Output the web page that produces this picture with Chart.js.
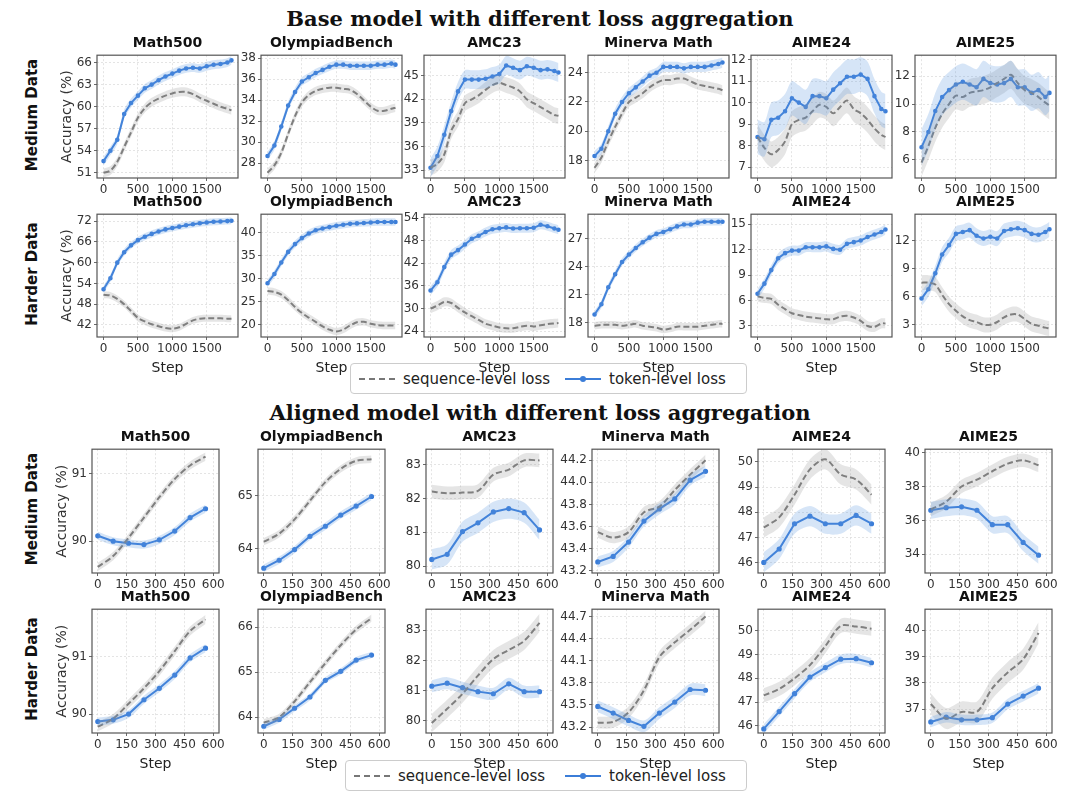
<!DOCTYPE html>
<html><head><meta charset="utf-8">
<script src="https://cdn.jsdelivr.net/npm/chart.js@4"></script>
<style>
body{margin:0;width:1080px;height:794px;background:#fff;position:relative;overflow:hidden;font-family:"DejaVu Sans",sans-serif;}
.sup{position:absolute;left:0;width:1080px;text-align:center;font-family:"DejaVu Serif","Liberation Serif",serif;font-weight:bold;font-size:21px;color:#111;}
.pt{position:absolute;text-align:center;font-weight:bold;font-size:14px;color:#111;white-space:nowrap;}
.rl{position:absolute;font-weight:bold;font-size:15px;color:#111;transform:rotate(-90deg);transform-origin:center;white-space:nowrap;width:120px;text-align:center;}
canvas{position:absolute;}
.leg{position:absolute;border:1px solid #ccc;border-radius:4px;background:#fff;font-size:15px;color:#222;}
.item{position:absolute;top:0;height:100%;display:flex;align-items:center;}
.ls{width:36px;height:0;margin-right:8px;position:relative;}
</style></head><body>
<div class="sup" style="top:6px">Base model with different loss aggregation</div>
<div class="sup" style="top:400px">Aligned model with different loss aggregation</div>
<div class="rl" style="left:-28px;top:106px">Medium Data</div>
<div class="rl" style="left:-28px;top:265px">Harder Data</div>
<div class="rl" style="left:-28px;top:500px">Medium Data</div>
<div class="rl" style="left:-28px;top:660px">Harder Data</div>
<div class="leg" style="left:350px;top:363px;width:395px;height:29px">
 <div class="item" style="left:8px"><div class="ls" style="border-top:2px dashed #777"></div>sequence-level loss</div>
 <div class="item" style="left:214px"><div class="ls" style="border-top:2px solid #3b7dd8"><span style="position:absolute;left:15px;top:-4px;width:6px;height:6px;border-radius:3px;background:#3b7dd8"></span></div>token-level loss</div>
</div>
<div class="leg" style="left:345px;top:760px;width:400px;height:29px">
 <div class="item" style="left:8px"><div class="ls" style="border-top:2px dashed #777"></div>sequence-level loss</div>
 <div class="item" style="left:219px"><div class="ls" style="border-top:2px solid #3b7dd8"><span style="position:absolute;left:15px;top:-4px;width:6px;height:6px;border-radius:3px;background:#3b7dd8"></span></div>token-level loss</div>
</div>
<script>
const benchmarks = ["Math500","OlympiadBench","AMC23","Minerva Math","AIME24","AIME25"];
const baseSteps = [0,100,200,300,400,500,600,700,800,900,1000,1100,1200,1300,1400,1500,1600,1700,1800,1860];
const alignedSteps = [0,80,160,240,320,400,480,560];
const baseXTicks = [0,500,1000,1500];
const alignedXTicks = [0,150,300,450,600];

// Base model, Medium data
const bMedMathTok = [52.6,54,55.5,59,60.5,61.5,62.5,63,63.6,64.1,64.5,64.9,65.2,65.3,65.2,65.5,65.7,65.8,66,66.3];
const bMedMathSeq = [51,51.3,52.5,54.5,56.5,58.5,59.8,60.6,61.1,61.5,61.8,62,62,61.7,61.2,60.8,60.4,60,59.7,59.5];
const bMedOlyTok = [28.7,29.7,31.5,33.5,34.8,35.8,36.2,36.6,36.9,37.2,37.4,37.4,37.3,37.3,37.3,37.3,37.4,37.4,37.5,37.4];
const bMedOlySeq = [27.1,27.8,29,30.8,32.5,33.8,34.5,34.9,35.1,35.2,35.2,35.1,35,34.6,34,33.4,33,33,33.2,33.3];
const bMedAmcTok = [33.3,34.8,37.5,40.5,43,44.5,44.5,44.5,44.6,44.9,45.2,46.3,46,45.7,46.2,46,45.7,45.8,45.6,45.4];
const bMedAmcSeq = [33.3,33.8,35,38,39.5,41.5,42,42.5,43.2,43.8,44.1,43.8,43.5,43,42,41.5,41,40.5,40,39.9];
const bMedMinTok = [18.3,18.8,20,21.2,22,22.6,23,23.4,23.8,24,24.4,24.4,24.4,24.3,24.4,24.4,24.4,24.5,24.6,24.7];
const bMedMinSeq = [17.5,18.2,19.3,20.3,21.2,22,22.3,22.6,23,23.3,23.5,23.5,23.6,23.6,23.4,23.2,23.1,23,22.9,22.8];
const bMedA24Tok = [8.4,8.3,9.2,9.3,9.6,10.2,10.0,9.8,10.3,10.3,10.2,10.6,10.9,11.2,11.2,11.3,11.1,10.3,9.7,9.6];
const bMedA24Seq = [8.4,7.9,7.6,7.8,8.2,9.0,9.2,9.3,9.6,9.9,9.8,9.5,9.8,10.1,9.7,9.5,9.2,8.8,8.5,8.4];
const bMedA25Tok = [6.9,8.0,9.5,10.5,11,11.4,11.6,11.4,11.2,11.8,11.5,11.4,11.5,11.8,11.2,11.2,10.8,11,10.5,10.8];
const bMedA25Seq = [5.8,7,8.3,9.3,10,10.6,10.5,10.8,10.9,11,11.2,11.5,11.8,12.1,11.5,11,10.8,10.5,10.1,9.9];
// Base model, Harder data
const bHarMathTok = [52.3,55.5,60,63,65,66.5,67.5,68.3,69,69.6,70,70.4,70.8,71.1,71.4,71.6,71.8,71.9,72,72.1];
const bHarMathSeq = [50.7,50.5,49.5,48,46,44,43,42.2,41.6,41.1,40.9,41.3,42.3,43.3,43.8,43.9,43.9,43.9,43.8,43.8];
const bHarOlyTok = [29,31,33.5,35.8,37.5,38.8,39.8,40.5,40.9,41.2,41.5,41.7,41.9,42,42.1,42.2,42.3,42.3,42.3,42.3];
const bHarOlySeq = [27.3,27.1,26.5,25.3,23.8,22.5,21.5,20.6,19.6,18.9,18.5,18.9,19.8,20.5,20.6,20.2,19.9,19.8,19.8,19.8];
const bHarAmcTok = [34.8,37,41,44.3,45.5,47,48.5,49.3,50.3,51,51.3,51.5,51.2,51.3,51.3,51.4,52.2,51.8,51.2,50.9];
const bHarAmcSeq = [30,30.8,31.8,31.5,30.2,29,28,27,26,25.5,25,24.8,24.8,25.2,25.5,25.3,25.6,25.9,26.1,26.2];
const bHarMinTok = [18.9,20,21.8,23.2,24.5,25.3,26,26.6,27.1,27.5,27.7,28,28.3,28.5,28.5,28.7,28.8,28.8,28.8,28.8];
const bHarMinSeq = [17.7,17.8,17.8,17.8,17.7,17.8,17.9,17.7,17.6,17.5,17.3,17.4,17.6,17.6,17.6,17.6,17.7,17.8,17.9,17.9];
const bHarA24Tok = [6.8,8,9.6,11,11.6,11.9,11.9,12.3,12.3,12.3,12.4,12.1,12,12.7,12.9,13.1,13.5,13.8,14.1,14.4];
const bHarA24Seq = [6.5,6.3,6.2,5.5,5,4.5,4.3,4.1,4,3.9,3.8,3.8,4.1,4.2,4,3.6,3,2.9,3.3,3.3];
const bHarA25Tok = [5.8,6.8,8.5,10.5,11.5,12.7,12.9,13.1,12.5,12.2,12.4,12.2,13,13.2,13.3,13.1,12.7,12.6,12.9,13.2];
const bHarA25Seq = [7.5,7.5,7.3,6.2,5.2,4.5,3.9,3.5,3.3,3,3,3.3,3.8,4.1,4.1,3.6,3.1,2.9,2.7,2.6];
// Aligned model, Medium data
const aMedMathTok = [90.08,90.0,89.97,89.95,90.02,90.15,90.35,90.48];
const aMedMathSeq = [89.62,89.78,90.05,90.35,90.65,90.92,91.12,91.25];
const aMedOlyTok = [63.63,63.78,63.98,64.23,64.42,64.63,64.8,64.98];
const aMedOlySeq = [64.13,64.28,64.55,64.9,65.25,65.5,65.65,65.68];
const aMedAmcTok = [80.2,80.35,81.02,81.28,81.6,81.7,81.58,81.07];
const aMedAmcSeq = [82.2,82.15,82.17,82.22,82.7,82.85,83.12,83.12];
const aMedMinTok = [43.28,43.33,43.46,43.65,43.76,43.85,44.02,44.1];
const aMedMinSeq = [43.55,43.5,43.55,43.73,43.78,43.93,44.07,44.2];
const aMedA24Tok = [46.02,46.55,47.55,47.85,47.55,47.55,47.88,47.55];
const aMedA24Seq = [47.4,47.8,48.7,49.7,50.1,49.5,49.3,48.7];
const aMedA25Tok = [36.6,36.75,36.8,36.6,35.75,35.75,34.7,33.95];
const aMedA25Seq = [36.65,37.1,38,38.4,38.9,39.35,39.55,39.25];
// Aligned model, Harder data
const aHarMathTok = [89.87,89.9,90.0,90.25,90.45,90.68,90.98,91.15];
const aHarMathSeq = [89.78,89.92,90.18,90.45,90.75,91.1,91.45,91.65];
const aHarOlyTok = [63.8,63.95,64.2,64.45,64.82,65.02,65.27,65.38];
const aHarOlySeq = [63.88,64.0,64.35,64.78,65.2,65.6,65.95,66.2];
const aHarAmcTok = [81.15,81.25,81.1,80.97,80.9,81.23,80.97,80.97];
const aHarAmcSeq = [79.93,80.4,80.9,81.5,82.05,82.35,82.65,83.25];
const aHarMinTok = [43.48,43.39,43.29,43.21,43.39,43.54,43.71,43.7];
const aHarMinSeq = [43.26,43.27,43.4,43.7,44.15,44.35,44.52,44.7];
const aHarA24Tok = [45.87,46.6,47.35,48.05,48.45,48.8,48.82,48.65];
const aHarA24Seq = [47.28,47.55,48.0,48.55,49.35,50.2,50.17,50.08];
const aHarA25Tok = [36.52,36.7,36.6,36.6,36.68,37.2,37.5,37.8];
const aHarA25Seq = [37.2,36.65,36.9,36.9,37.8,38.4,38.9,39.9];

const yTicks = [
 [[51,54,57,60,63,66],[28,30,32,34,36,38],[33,36,39,42,45],[18,20,22,24],[7,8,9,10,11,12],[6,8,10,12]],
 [[42,48,54,60,66,72],[20,25,30,35,40],[24,30,36,42,48,54],[18,21,24,27],[3,6,9,12,15],[3,6,9,12]],
 [[90,91],[64,65],[80,81,82,83],[43.2,43.4,43.6,43.8,44.0,44.2],[46,47,48,49,50],[34,36,38,40]],
 [[90,91],[64,65,66],[80,81,82,83],[43.2,43.5,43.8,44.1,44.4,44.7],[46,47,48,49,50],[37,38,39,40]]
];
const yRanges = [
 [[50.3,67],[26.6,38.3],[32,47.6],[16.8,25.2],[6.5,12.2],[4.7,13.5]],
 [[38.5,74],[17.3,44],[22.5,55],[16.5,29.6],[1.7,16.2],[1.7,14.8]],
 [[89.53,91.36],[63.54,65.87],[79.8,83.45],[43.18,44.3],[45.6,50.5],[32.9,40.2]],
 [[89.67,91.83],[63.65,66.4],[79.6,83.7],[43.12,44.8],[45.7,50.9],[36.1,40.8]]
];
const bands = [
 [[0.6,0.6],[0.4,0.4],[1.2,1.0],[0.35,0.35],[0.8,0.6],[1.3,1.0]],
 [[1.0,1.0],[0.8,0.8],[1.2,1.2],[0.4,0.4],[0.6,0.6],[0.8,0.8]],
 [[0.06,0.06],[0.07,0.07],[0.3,0.2],[0.05,0.05],[0.4,0.4],[0.5,0.4]],
 [[0.07,0.08],[0.07,0.08],[0.2,0.3],[0.08,0.08],[0.2,0.3],[0.2,0.4]]
];
const panelData = [
 [[bMedMathTok,bMedMathSeq],[bMedOlyTok,bMedOlySeq],[bMedAmcTok,bMedAmcSeq],[bMedMinTok,bMedMinSeq],[bMedA24Tok,bMedA24Seq],[bMedA25Tok,bMedA25Seq]],
 [[bHarMathTok,bHarMathSeq],[bHarOlyTok,bHarOlySeq],[bHarAmcTok,bHarAmcSeq],[bHarMinTok,bHarMinSeq],[bHarA24Tok,bHarA24Seq],[bHarA25Tok,bHarA25Seq]],
 [[aMedMathTok,aMedMathSeq],[aMedOlyTok,aMedOlySeq],[aMedAmcTok,aMedAmcSeq],[aMedMinTok,aMedMinSeq],[aMedA24Tok,aMedA24Seq],[aMedA25Tok,aMedA25Seq]],
 [[aHarMathTok,aHarMathSeq],[aHarOlyTok,aHarOlySeq],[aHarAmcTok,aHarAmcSeq],[aHarMinTok,aHarMinSeq],[aHarA24Tok,aHarA24Seq],[aHarA25Tok,aHarA25Seq]]
];

const rowTops = [54,213,448,608];
const rowH = [124,124,125,125];
const baseLefts = [97,261,424,588,751,915], baseW = 141;
const alLefts = [92,258,426,592,758,925], alW = 127;

const frame = {id:'frame',afterDraw(c){const a=c.chartArea,x=c.ctx;x.save();x.strokeStyle='#555';x.lineWidth=1.2;x.strokeRect(a.left,a.top,a.right-a.left,a.bottom-a.top);x.restore();}};
const TOK='#3b7dd8', SEQ='#777';
const font={family:"DejaVu Sans",size:12};

for(let r=0;r<4;r++){
 const base = r<2;
 for(let c=0;c<6;c++){
  const steps = base?baseSteps:alignedSteps;
  const [tok,seq] = panelData[r][c];
  const [bt,bs] = bands[r][c];
  const pl = base?baseLefts[c]:alLefts[c], pw = base?baseW:alW, pt=rowTops[r], ph=rowH[r];
  const yw = c==0?38:(r>=2&&c==3?38:32);
  const bottomRow = (r==1||r==3);
  const xh = bottomRow?40:22;
  const cv=document.createElement('canvas');
  const W=yw+pw+14, H=8+ph+xh;
  cv.style.left=(pl-yw)+'px'; cv.style.top=(pt-8)+'px';
  cv.style.width=W+'px'; cv.style.height=H+'px'; cv.width=W; cv.height=H;
  document.body.appendChild(cv);
  const t=document.createElement('div'); t.className='pt';
  t.style.left=pl+'px'; t.style.width=pw+'px'; t.style.top=(pt-20)+'px'; t.textContent=benchmarks[c];
  document.body.appendChild(t);
  const pts=a=>steps.map((s,i)=>({x:s,y:a[i]}));
  const off=(a,d)=>steps.map((s,i)=>({x:s,y:a[i]+d}));
  const xT = base?baseXTicks:alignedXTicks;
  const yT = yTicks[r][c];
  const dec = (r>=2&&c==3)?1:0;
  new Chart(cv,{type:'line',data:{datasets:[
    {data:off(tok,bt),borderWidth:0,pointRadius:0,fill:false,tension:0.3},
    {data:off(tok,-bt),borderWidth:0,pointRadius:0,fill:'-1',backgroundColor:'rgba(90,150,225,0.25)',tension:0.3},
    {data:off(seq,bs),borderWidth:0,pointRadius:0,fill:false,tension:0.3},
    {data:off(seq,-bs),borderWidth:0,pointRadius:0,fill:'-1',backgroundColor:'rgba(150,150,150,0.25)',tension:0.3},
    {data:pts(seq),borderColor:SEQ,borderWidth:2,borderDash:[6,3],pointRadius:0,fill:false,tension:0.3},
    {data:pts(tok),borderColor:TOK,backgroundColor:TOK,borderWidth:2,pointRadius:base?1.3:1.6,fill:false,tension:0}
  ]},options:{responsive:false,animation:false,devicePixelRatio:1,
   layout:{padding:{top:8,right:14,left:0,bottom:0}},
   plugins:{legend:{display:false},tooltip:{enabled:false}},
   scales:{
    x:{type:'linear',min:base?-95:-30,max:base?1955:630,
      afterBuildTicks:s=>{s.ticks=xT.map(v=>({value:v}));},
      afterFit:s=>{s.height=xh;},
      ticks:{font,color:'#333',padding:2,maxRotation:0,autoSkip:false,callback:v=>String(v)},
      grid:{color:'#ddd',tickColor:'#444',tickLength:3,lineWidth:0.8},
      border:{display:false,dash:[2,2]},
      title:{display:bottomRow,text:'Step',font:{family:"DejaVu Sans",size:14},color:'#222',padding:0}},
    y:{min:yRanges[r][c][0],max:yRanges[r][c][1],
      afterBuildTicks:s=>{s.ticks=yT.map(v=>({value:v}));},
      afterFit:s=>{s.width=yw;},
      ticks:{font,color:'#333',padding:2,autoSkip:false,callback:v=>v.toFixed(dec)},
      grid:{color:'#ddd',tickColor:'#444',tickLength:3,lineWidth:0.8},
      border:{display:false,dash:[2,2]},
      title:{display:c==0,text:'Accuracy (%)',font:{family:"DejaVu Sans",size:14},color:'#333',padding:0}}
   }},plugins:[frame]});
 }
}
</script>
</body></html>
